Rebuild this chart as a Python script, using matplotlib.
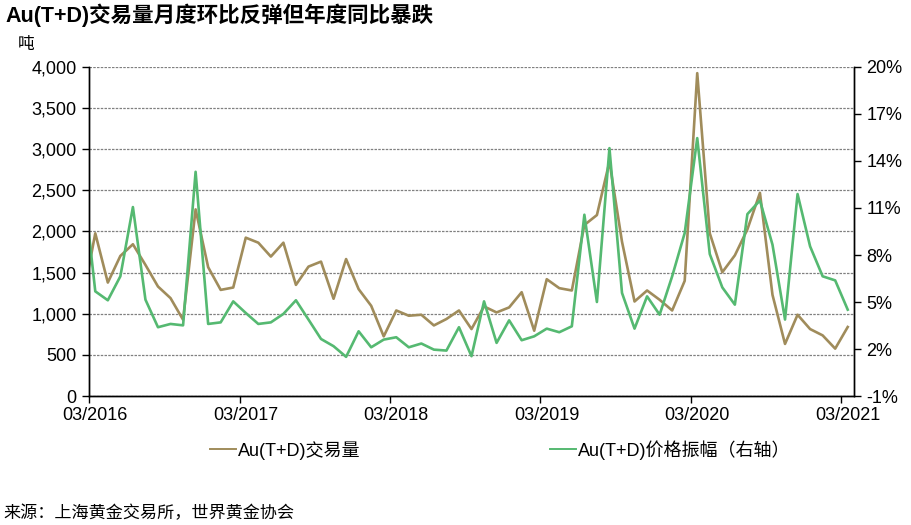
import numpy as np
import matplotlib
matplotlib.use('Agg')
import matplotlib.pyplot as plt
from matplotlib.lines import Line2D

plt.rcParams['font.family'] = ['Liberation Sans', 'Noto Sans CJK SC']

# monthly data, first value sits half a month before 03/2016 (clipped by the axis)
volume = [1170, 1978, 1379, 1703, 1845, 1594, 1331, 1190, 927, 2269, 1566, 1290,
          1319, 1925, 1864, 1695, 1864, 1351, 1573, 1634, 1182, 1665, 1299, 1097,
          725, 1040, 976, 988, 858, 936, 1040, 814, 1089, 1016, 1077, 1262,
          794, 1420, 1311, 1283, 2079, 2200, 2850, 1876, 1149, 1283, 1170, 1040,
          1400, 3925, 1978, 1505, 1710, 2026, 2470, 1230, 633, 988, 814, 737,
          576, 839]
amplitude = [12.9, 5.68, 5.11, 6.64, 11.06, 5.15, 3.39, 3.6, 3.51, 13.31, 3.6, 3.7,
             5.04, 4.3, 3.6, 3.7, 4.24, 5.11, 3.88, 2.64, 2.18, 1.5, 3.13, 2.11,
             2.6, 2.75, 2.11, 2.35, 1.96, 1.9, 3.39, 1.54, 5.04, 2.39, 3.83, 2.56,
             2.81, 3.3, 3.07, 3.45, 10.57, 5.0, 14.82, 5.58, 3.3, 5.36, 4.19, 6.64,
             9.4, 15.46, 8.06, 5.93, 4.83, 10.61, 11.48, 8.66, 3.88, 11.89, 8.55, 6.64,
             6.38, 4.51]
year_labels = ['03/2016', '03/2017', '03/2018', '03/2019', '03/2020', '03/2021']
left_ticks = [0, 500, 1000, 1500, 2000, 2500, 3000, 3500, 4000]
right_ticks = [-1, 2, 5, 8, 11, 14, 17, 20]

brown = '#A08C5B'
green = '#55B971'

x = np.arange(len(volume)) - 0.5

fig = plt.figure(figsize=(9.12, 5.25), dpi=100)
ax = fig.add_axes([0.0976, 0.2457, 0.8388, 0.6267])
ax2 = ax.twinx()

ax.plot(x, volume, color=brown, lw=1.9)
ax2.plot(x, amplitude, color=green, lw=1.9)

ax.set_xlim(0, 61)
ax.set_ylim(0, 4000)
ax2.set_ylim(-1, 20)

ax.set_yticks(left_ticks)
ax.set_yticklabels(['{:,}'.format(v) for v in left_ticks])
ax2.set_yticks(right_ticks)
ax2.set_yticklabels(['{}%'.format(v) for v in right_ticks])

ax.set_xticks(np.arange(0, 61, 12))
ax.set_xticklabels([])
ax.set_xticks(np.arange(0, 61, 12) + 0.5, minor=True)
ax.set_xticklabels(year_labels, minor=True)
ax.tick_params(axis='x', which='minor', length=0, pad=8, labelsize=13)
ax.tick_params(axis='x', which='major', length=5, width=1, direction='out')
ax.tick_params(axis='y', length=5, width=1, labelsize=13, pad=4)
ax2.tick_params(axis='y', length=5, width=1, labelsize=13, pad=4)

ax.yaxis.grid(True, color='#808080', lw=0.9, ls=(0, (2, 1)))
ax.set_axisbelow(True)
for a in (ax, ax2):
    a.spines['top'].set_visible(False)
    for s in ('left', 'right', 'bottom'):
        a.spines[s].set_linewidth(1)
        a.spines[s].set_color('black')

fig.text(0.006, 0.971, 'Au(T+D)交易量月度环比反弹但年度同比暴跌', fontsize=15.5,
         fontweight='bold', va='center', ha='left')
fig.text(0.02, 0.915, '吨', fontsize=12, va='center', ha='left', style='italic')

handles = [Line2D([], [], color=brown, lw=1.4, label='Au(T+D)交易量'),
           Line2D([], [], color=green, lw=1.4, label='Au(T+D)价格振幅（右轴）')]
fig.legend(handles=handles, loc='center', bbox_to_anchor=(0.549, 0.143), ncol=2,
           frameon=False, fontsize=13, handlelength=1.4, handletextpad=0.15,
           columnspacing=10.5)

fig.text(0.004, 0.023, '来源：上海黄金交易所，世界黄金协会', fontsize=12.3,
         va='center', ha='left')

fig.savefig('out.png', dpi=100)
